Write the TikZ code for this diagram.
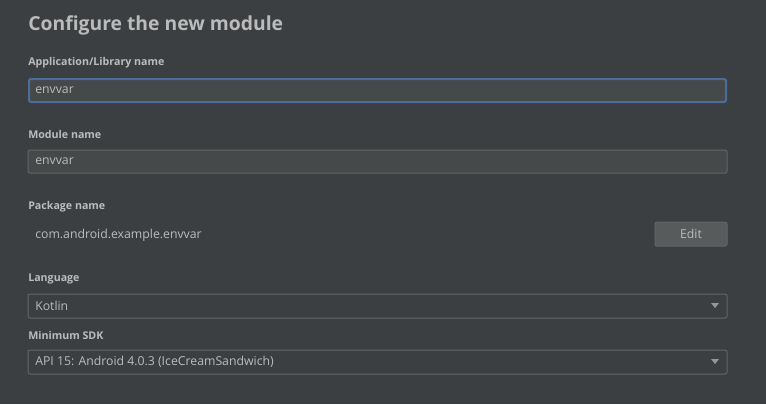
\documentclass[tikz,border=0pt]{standalone}
\usepackage{fontspec}
\setmainfont{Open Sans}
\usetikzlibrary{positioning}
\definecolor{panel}{HTML}{3C3F41}
\definecolor{fieldbg}{HTML}{45494A}
\definecolor{edge}{HTML}{646464}
\definecolor{focus}{HTML}{4A6E99}
\definecolor{txt}{HTML}{BBBBBB}
\begin{document}
\begin{tikzpicture}[x=0.75pt,y=-0.75pt,
    heading/.style={anchor=west,text=txt,font=\fontsize{14.5}{16}\selectfont\bfseries,inner sep=0pt},
    caption/.style={anchor=west,text=txt,font=\fontsize{8}{10}\selectfont\bfseries,inner sep=0pt},
    entry/.style={anchor=west,text=txt,font=\fontsize{9.2}{10}\selectfont,inner sep=0pt},
    field/.style={draw=edge,fill=fieldbg,line width=0.75pt,rounded corners=1.5pt},
    combo/.style={draw=edge,fill=panel,line width=0.75pt,rounded corners=1.5pt},
    arrowdown/.style={fill=txt!80!black}]
  \fill[panel] (0,0) rectangle (766,404);
  \useasboundingbox (0,0) rectangle (766,404);

  % title
  \node[heading] (title) at (28,25) {Configure the new module};

  % application name
  \node[caption] (applbl) at (28,63) {Application/Library name};
  \draw[field,draw=focus,line width=1.5pt] (29,79) rectangle (726,102);
  \node[entry] (appval) at (35,90.5) {envvar};

  % module name
  \node[caption] (modlbl) at (28,134) {Module name};
  \draw[field] (28,150) rectangle (727,173);
  \node[entry] (modval) at (35,161.5) {envvar};

  % package name
  \node[caption] (pkglbl) at (28,207) {Package name};
  \node[entry] (pkgval) at (35,235) {com.android.example.envvar};
  \draw[field,fill=fieldbg!90!white] (655,222) rectangle (727,246);
  \node[entry] (edit) at (691,234) [anchor=center] {Edit};

  % language
  \node[caption] (langlbl) at (28,279) {Language};
  \draw[combo] (28,294) rectangle (727,318);
  \node[entry] (langval) at (35,306) {Kotlin};
  \fill[arrowdown] (711,303) -- (719,303) -- (715,308) -- cycle;

  % minimum sdk
  \node[caption] (sdklbl) at (28,335) {Minimum SDK};
  \draw[combo] (28,350) rectangle (727,374);
  \node[entry] (sdkval) at (35,362) {API 15: Android 4.0.3 (IceCreamSandwich)};
  \fill[arrowdown] (711,359) -- (719,359) -- (715,364) -- cycle;
\end{tikzpicture}
\end{document}
